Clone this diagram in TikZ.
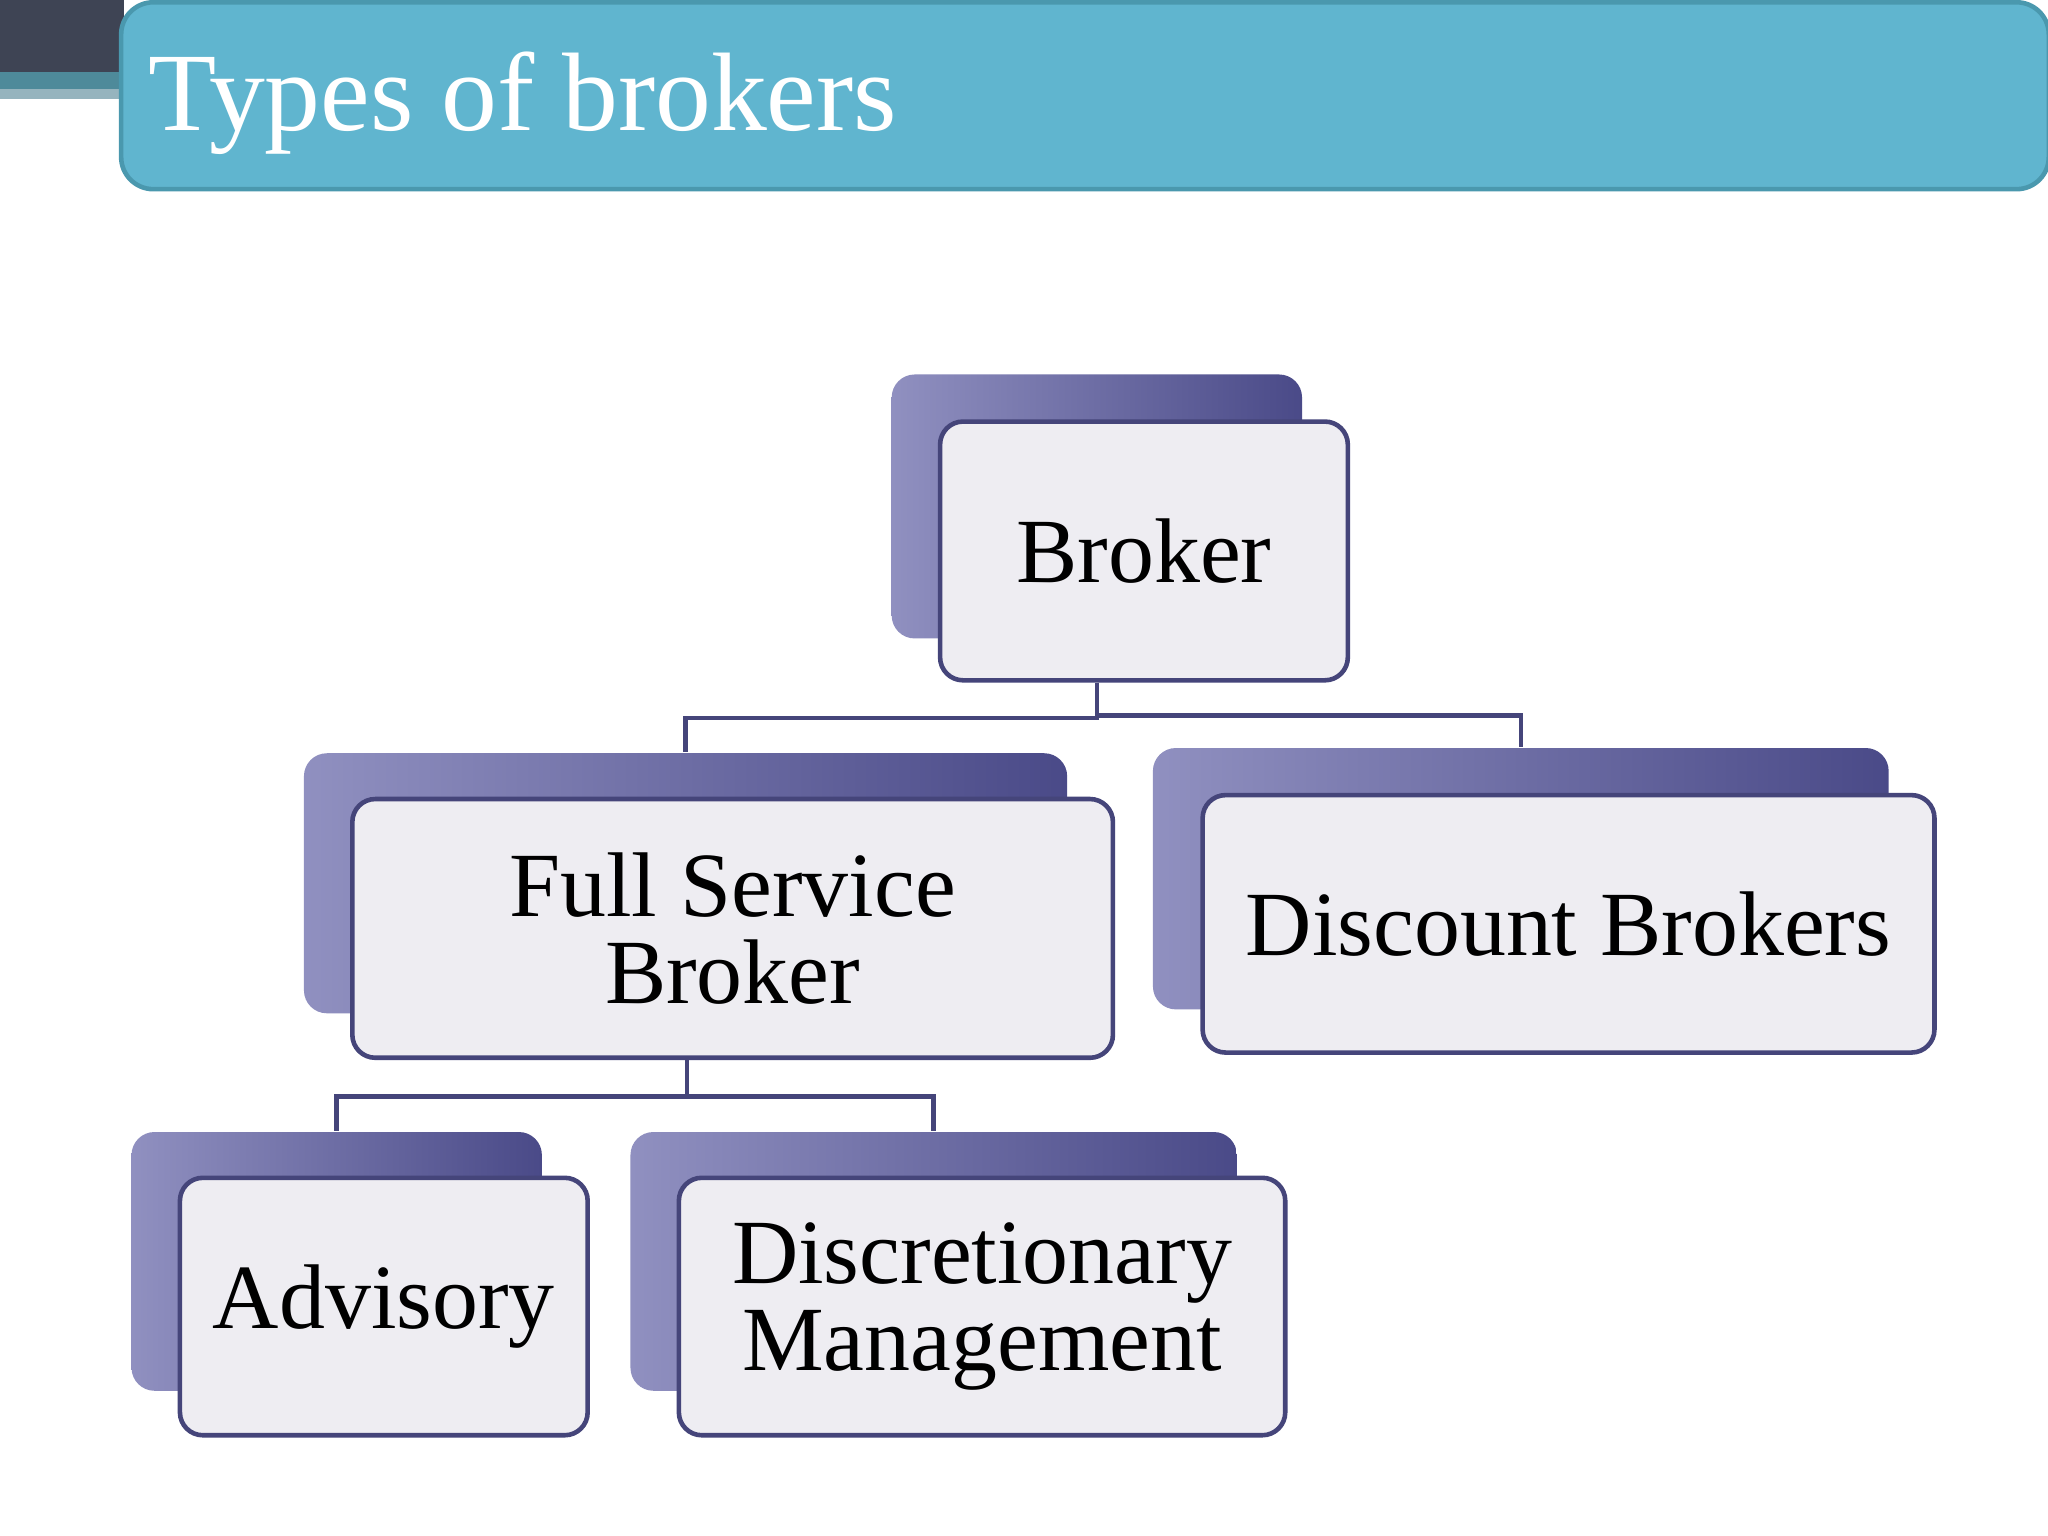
\documentclass[tikz,border=0pt]{standalone}
\usepackage{fontspec}
\setmainfont{Liberation Serif}
\begin{document}
\begin{tikzpicture}[x=0.01cm,y=-0.01cm,
 back/.style={draw=none,rounded corners=5pt,left color=backL,right color=backR,anchor=north west},
 front/.style={draw=lineC,line width=1pt,rounded corners=5pt,fill=frontC,anchor=north west,align=center,font=\fontsize{20}{19}\selectfont,inner sep=0pt},
 conn/.style={draw=lineC,line width=1pt}]
\definecolor{backL}{HTML}{9090C0}
\definecolor{backR}{HTML}{4A4A88}
\definecolor{frontC}{HTML}{EEEDF2}
\definecolor{lineC}{HTML}{45457A}
\definecolor{titleC}{HTML}{60B5CF}
\definecolor{titleB}{HTML}{4A98AE}
\useasboundingbox (0,0) rectangle (1568,1176);
\fill[white] (0,0) rectangle (1568,1176);
% header decorations
\fill[fill={rgb,255:red,62;green,68;blue,84}] (0,0) rectangle (95,55);
\fill[fill={rgb,255:red,78;green,138;blue,154}] (0,55) rectangle (95,68);
\fill[fill={rgb,255:red,150;green,180;blue,190}] (0,68) rectangle (95,76);
\node[draw=titleB,line width=1pt,fill=titleC,rounded corners=7pt,anchor=north west,minimum width=14.75cm,minimum height=1.43cm] (title) at (91,0) {};
\node[anchor=base west,text=white,font=\fontsize{24.3}{26}\selectfont,inner sep=0pt] (ttext) at (113,100) {Types of brokers};
% boxes
\node[back,minimum width=3.14cm,minimum height=2.02cm] (bb) at (682,286) {};
\node[front,minimum width=3.12cm,minimum height=1.98cm] (b) at (718,321) {Broker};
\node[back,minimum width=5.84cm,minimum height=1.99cm] (fb) at (232,576) {};
\node[front,minimum width=5.82cm,minimum height=1.98cm] (f) at (268,610) {Full Service\\Broker};
\node[back,minimum width=5.63cm,minimum height=2.00cm] (db) at (882,572) {};
\node[front,minimum width=5.60cm,minimum height=1.97cm] (d) at (919,607) {Discount Brokers};
\node[back,minimum width=3.14cm,minimum height=1.98cm] (ab) at (100,866) {};
\node[front,minimum width=3.12cm,minimum height=1.97cm] (a) at (136,900) {Advisory};
\node[back,minimum width=4.64cm,minimum height=1.98cm] (mb) at (482,866) {};
\node[front,minimum width=4.64cm,minimum height=1.97cm] (m) at (518,900) {Discretionary\\Management};
% connectors
\draw[conn] ([xshift=-0.36cm]b.south) -- ++(0,27) -| (fb.north);
\draw[conn] ([xshift=-0.36cm]b.south) -- ++(0,25) -| (db.north);
\draw[conn] ([xshift=-0.35cm]f.south) -- ++(0,28) -| (ab.north);
\draw[conn] ([xshift=-0.35cm]f.south) -- ++(0,28) -| (mb.north);
\end{tikzpicture}
\end{document}
